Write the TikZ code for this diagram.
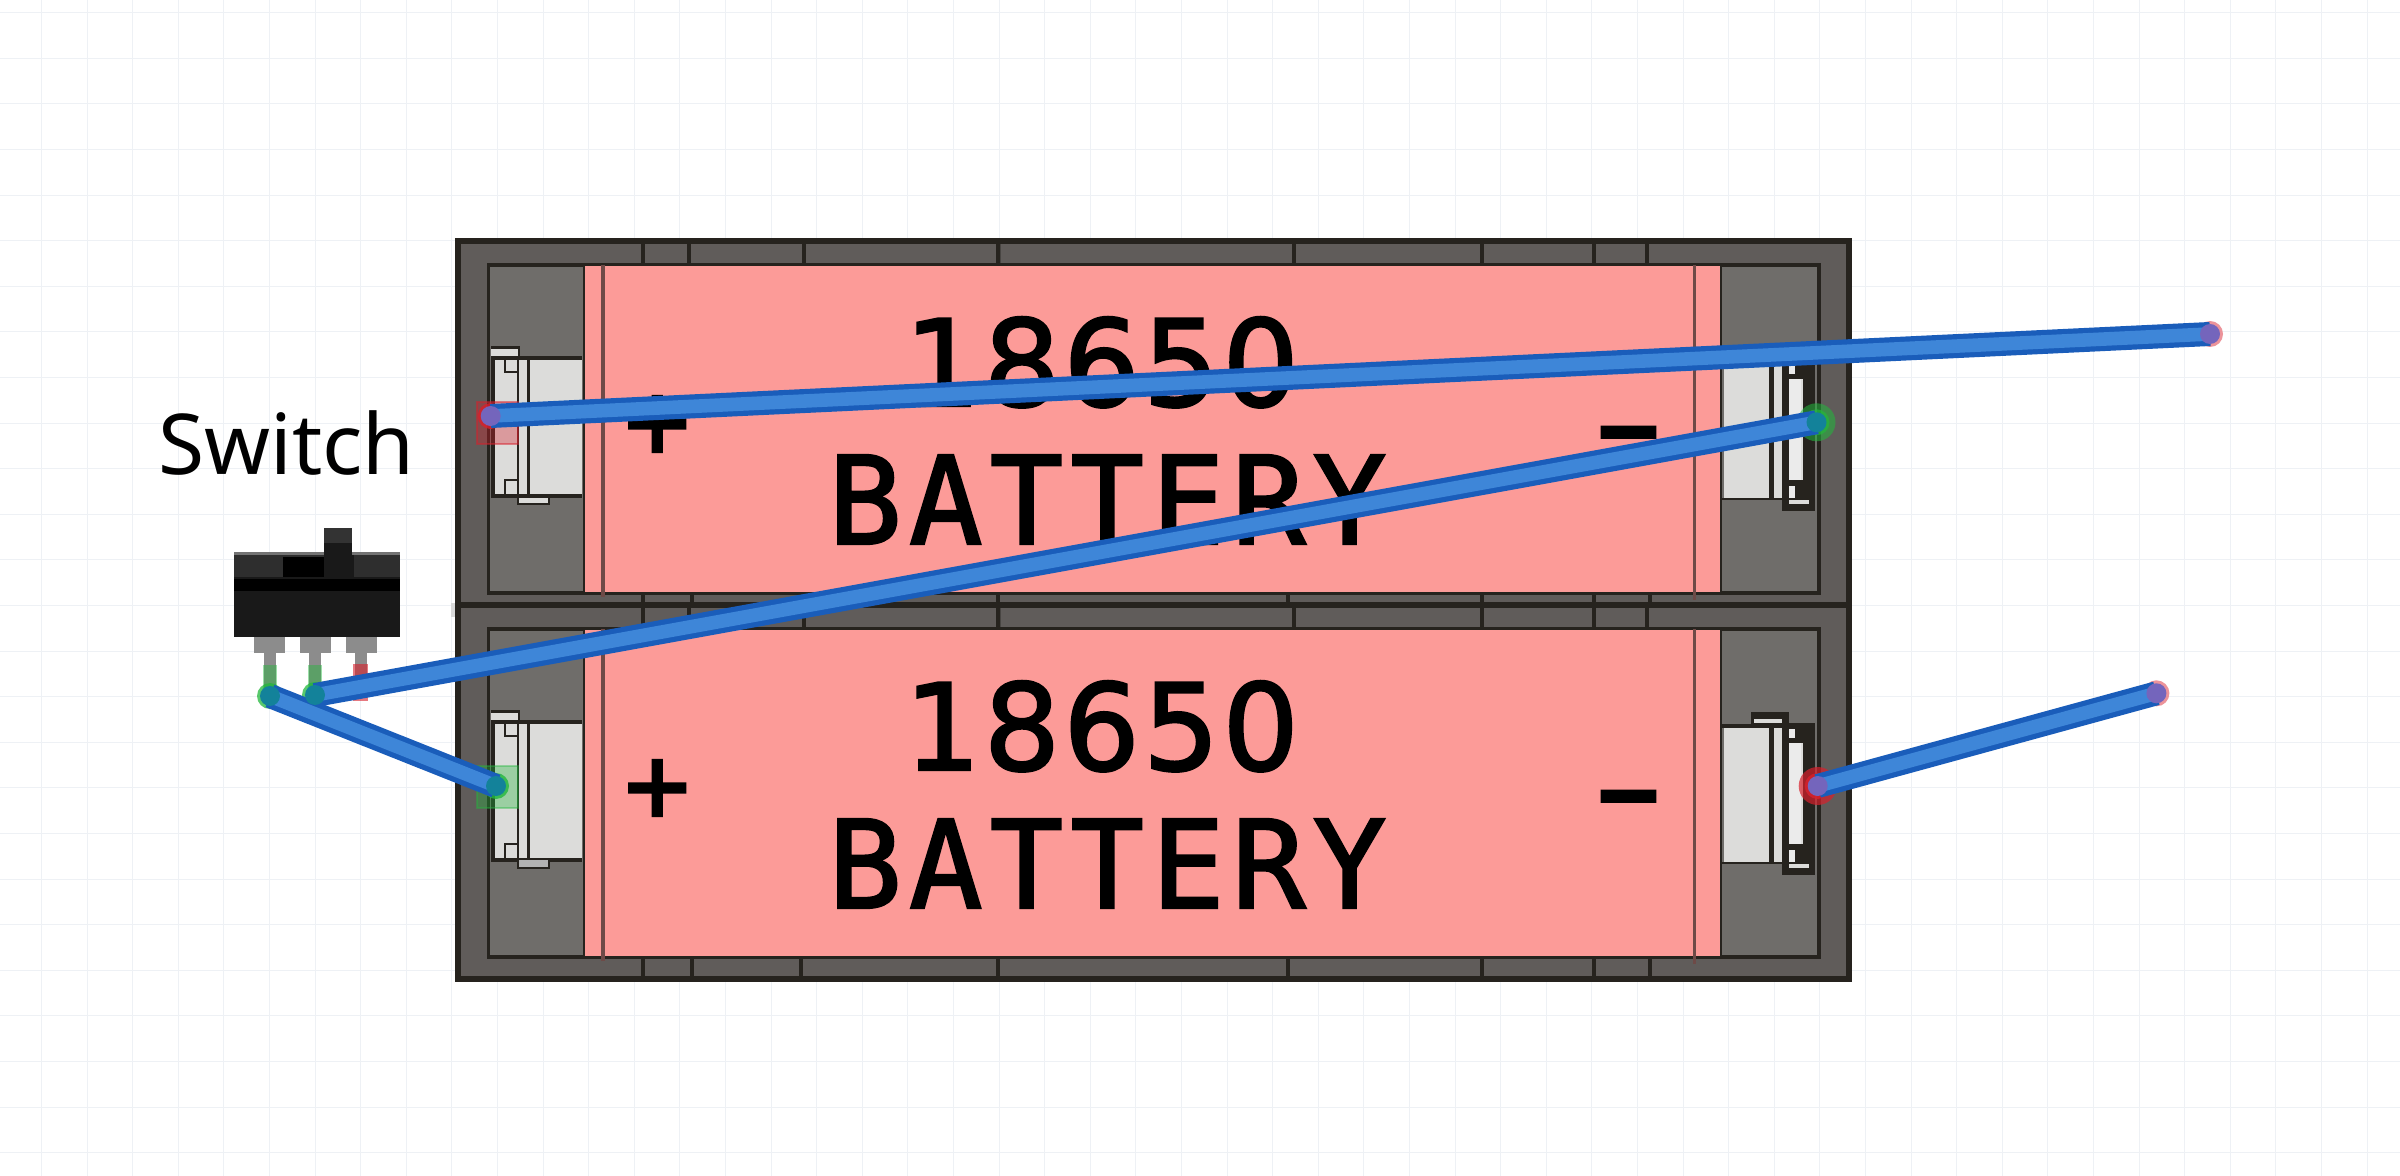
\documentclass[tikz,border=0pt]{standalone}
\usepackage{fontspec}
\setmainfont{Noto Sans}
\newfontfamily\silkletters[LetterSpace=6,FakeBold=2]{DejaVu Sans Mono}
\newfontfamily\silkdigits[LetterSpace=2.7,FakeBold=2]{DejaVu Sans}
\newfontfamily\silksign[FakeBold=5]{DejaVu Sans}
\newfontfamily\silkminus[FakeBold=4]{DejaVu Sans Bold}
\definecolor{gridline}{HTML}{EEF1F5}
\definecolor{holderband}{HTML}{605C5A}
\definecolor{holderwell}{HTML}{6F6D6A}
\definecolor{holderline}{HTML}{26231E}
\definecolor{cellpink}{HTML}{FC9B98}
\definecolor{cellline}{HTML}{6E4A47}
\definecolor{contact}{HTML}{DCDCDA}
\definecolor{wirecore}{HTML}{3E86D8}
\definecolor{wireedge}{HTML}{1A5DBA}
\definecolor{pinred}{HTML}{D8202C}
\definecolor{pingreen}{HTML}{22B83C}
\tikzset{
  silk/.style={anchor=base west,inner sep=0pt,text=black},
  wire/.style={draw=wireedge,line width=2.6pt,double=wirecore,double distance=6.8pt},
  part line/.style={draw=holderline,line width=1.6pt},
  thin line/.style={draw=holderline,line width=1.1pt},
}
\begin{document}
\begin{tikzpicture}[x=0.5pt,y=-0.5pt]
  \useasboundingbox (0,0) rectangle (2400,1176);
  \fill[white] (0,0) rectangle (2400,1176);
  % grid
  \foreach \gx in {0,...,52}
    \draw[gridline,line width=0.5pt] ({41.5+45.6*\gx},0) -- ({41.5+45.6*\gx},1176);
  \foreach \gy in {0,...,25}
    \draw[gridline,line width=0.5pt] (0,{12.7+45.6*\gy}) -- (2400,{12.7+45.6*\gy});
  % holders
  \fill[holderband] (455,238) rectangle (1852,982);
  \foreach \hold/\off in {upper/0,lower/364} {
    \begin{scope}[shift={(0,\off)}]
      \filldraw[fill=holderwell,part line] (488.5,265) rectangle (1819,593);
      \filldraw[fill=cellpink,thin line] (584,265) rectangle (1721,593);
      \draw[cellline,line width=1.8pt] (603,265) -- (603,597);
      \draw[cellline,line width=1.8pt] (1694.5,265) -- (1694.5,600);
      % ticks in the bands
      \foreach \tx in {643,689,804,998,1294,1482,1594,1647}
        \draw[part line] (\tx,243) -- (\tx,265);
      \draw[thin line,draw opacity=0.4] (1000,243) rectangle (1294,265);
      % plus contact
      \fill[contact] (495,360) rectangle (517,495);
      \fill[contact] (518,360) rectangle (528,495);
      \fill[contact] (530,360) rectangle (582,495);
      \filldraw[fill=contact,thin line] (491,347.5) -- (519,347.5) -- (519,358) -- (491,358);
      \filldraw[fill=contact,thin line] (518,495) -- (518,504) -- (549,504) -- (549,495);
      \draw[part line] (491,358) -- (582,358);
      \draw[part line] (491,496) -- (582,496);
      \draw[thin line] (518,358) -- (518,496);
      \draw[part line] (528.5,358) -- (528.5,496);
      \draw[thin line] (505,358) -- (505,372) -- (518,372);
      \draw[thin line] (505,496) -- (505,480) -- (518,480);
      \draw[holderline,line width=1.6pt] (493,360) -- (493,495);
      % minus contact
      \fill[holderline] (1751,347.5) rectangle (1789,362);
      \fill[contact] (1754,354.5) rectangle (1782,359);
      \fill[holderline] (1782,359) rectangle (1815,511);
      \fill[holderline] (1721,360) rectangle (1815,364);
      \fill[contact] (1724,364) rectangle (1769,498);
      \fill[contact] (1774,364) rectangle (1782,498);
      \fill[holderline] (1721,498) rectangle (1789,500);
      \fill[holderline] (1769,362) rectangle (1773.5,500);
      \fill[contact] (1789,379) rectangle (1803,480);
      \fill[white!92!black] (1789,379) rectangle (1801,480);
      \fill[white!92!black] (1789,365) rectangle (1795,374);
      \fill[white!92!black] (1789,486) rectangle (1795,498);
      \fill[contact] (1789,500) rectangle (1809,504);
      % silk screen
      \node[silk,font=\silkdigits\fontsize{60}{60}\selectfont] (digits-\hold) at (904,406) {18650};
      \node[silk,font=\silkletters\fontsize{61}{61}\selectfont] (letters-\hold) at (828,544) {BATTERY};
      \node[anchor=center,inner sep=0pt,font=\silksign\fontsize{43}{43}\selectfont] (plus-\hold) at (657.3,424) {+};
      \node[anchor=center,inner sep=0pt,font=\silkminus\fontsize{42}{42}\selectfont] (minus-\hold) at (1628.5,443) {−};
    \end{scope}
  }
  \fill[gray!60] (519,860) rectangle (548,867);
  % frame of the two holders
  \draw[holderline,line width=3pt] (458,241) rectangle (1849,979);
  \draw[holderline,line width=3pt] (458,605) -- (1849,605);
  \foreach \tx in {643,692,801,998,1288,1482,1594,1650} {
    \draw[part line] (\tx,593) -- (\tx,603);
    \draw[part line] (\tx,957) -- (\tx,977);
  }
  \fill[gray!30] (451,603) rectangle (455,617);
  % switch
  \fill[black!55] (234,552) rectangle (400,556);
  \fill[black!82] (234,555) rectangle (400,580);
  \fill[black] (283,557) rectangle (323.5,577);
  \fill[black!90] (234,577) rectangle (400,637);
  \fill[black] (234,579.5) rectangle (400,591);
  \fill[black!80] (323.5,528.5) rectangle (352,543);
  \fill[black!90] (323.5,543) rectangle (352,555);
  \fill[black!90] (323.5,555) rectangle (354,577);
  \foreach \px/\pin in {269.5/a,315/b,361/c} {
    \fill[black!45] ({\px-15.5},637) rectangle ({\px+15.5},653);
    \fill[black!45] ({\px-6},653) rectangle ({\px+6},698);
  }
  \fill[pingreen,fill opacity=0.45] (262.7,665) rectangle (276.7,696);
  \fill[pingreen,fill opacity=0.45] (308.3,665) rectangle (322.3,696);
  \fill[pinred,fill opacity=0.6] (353.3,664) rectangle (367.7,700.7);
  \node[silk,font=\fontsize{42}{42}\selectfont] (switchlabel) at (158,475) {Switch};
  % solder pads
  \filldraw[fill=pinred,fill opacity=0.35,draw=pinred,draw opacity=0.5,line width=1pt] (477,402) rectangle (518,444);
  \filldraw[fill=pingreen,fill opacity=0.35,draw=pingreen,draw opacity=0.4,line width=1pt] (477,766) rectangle (518,808);
  % wires
  \coordinate (plusA) at (490.7,416);
  \coordinate (leadA) at (2210,334);
  \coordinate (minusA) at (1816.5,422.3);
  \coordinate (pinB) at (315,695);
  \coordinate (pinA) at (270,696);
  \coordinate (plusB) at (496,786);
  \coordinate (minusB) at (1817.7,786);
  \coordinate (leadB) at (2156.4,693.3);
  \fill[pingreen,fill opacity=0.55] (minusA) circle (9.5pt);
  \fill[pinred,fill opacity=0.7] (minusB) circle (9.5pt);
  \fill[pingreen,fill opacity=0.7] (minusA) circle (6.5pt);
  \fill[pinred,fill opacity=0.8] (minusB) circle (6.5pt);
  \foreach \pt in {pinA,pinB}
    \fill[pingreen,fill opacity=0.75] (\pt) circle (6.5pt);
  \foreach \pt in {leadA,leadB}
    \fill[pinred!60!white,fill opacity=0.8] (\pt) circle (6.5pt);
  \fill[pinred,fill opacity=0.8] (plusA) circle (6.5pt);
  \fill[pingreen,fill opacity=0.8] (plusB) circle (6.5pt);
  \draw[wire] (plusA) -- (leadA);
  \draw[wire] (pinB) -- (minusA);
  \draw[wire] (pinA) -- (plusB);
  \draw[wire] (minusB) -- (leadB);
  \foreach \pt in {plusA,leadA,minusB,leadB}
    \fill[violet!45!wirecore!85!white] (\pt) circle (5pt);
  \foreach \pt in {pinA,pinB,plusB,minusA}
    \fill[teal!70!wirecore] (\pt) circle (5pt);
\end{tikzpicture}
\end{document}
